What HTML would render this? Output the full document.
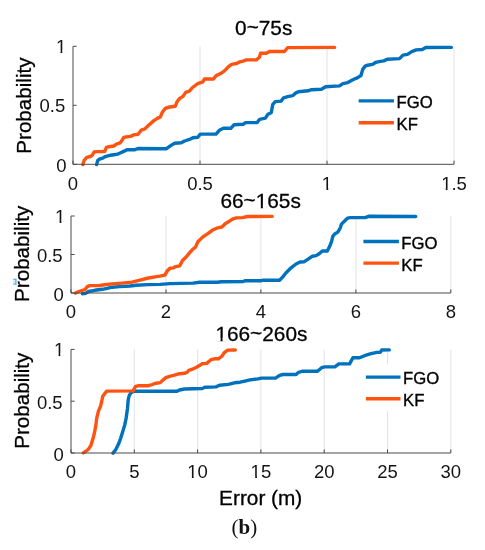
<!DOCTYPE html>
<html><head><meta charset="utf-8"><title>CDF</title>
<style>
html,body{margin:0;padding:0;background:#fff;}
body{width:485px;height:550px;overflow:hidden;}
svg{display:block;filter:blur(0.25px);}
.tk{font-family:"Liberation Sans",Arial,sans-serif;font-size:18.5px;fill:#141414;}
.tt{font-family:"Liberation Sans",Arial,sans-serif;font-size:20.8px;fill:#000;stroke:#000;stroke-width:0.3px;}
.lg{font-family:"Liberation Sans",Arial,sans-serif;font-size:16.7px;fill:#000;stroke:#000;stroke-width:0.35px;}
.cap{font-family:"Liberation Serif","Times New Roman",serif;font-size:21px;fill:#111;}
</style></head>
<body>
<svg width="485" height="550" viewBox="0 0 485 550">
<rect width="485" height="550" fill="#fff"/>
<line x1="200.0" y1="46.3" x2="200.0" y2="164.3" stroke="#e3e3e3" stroke-width="1"/>
<line x1="327.0" y1="46.3" x2="327.0" y2="164.3" stroke="#e3e3e3" stroke-width="1"/>
<line x1="454.0" y1="46.3" x2="454.0" y2="164.3" stroke="#e3e3e3" stroke-width="1"/>
<polyline points="96.6,164.6 97.8,160.3 99.7,159.0 102.7,158.2 104.6,156.9 107.7,155.9 110.2,155.3 113.9,154.7 117.6,154.1 120.7,152.8 123.2,151.6 125.6,150.4 127.5,149.7 134.9,149.7 138.0,148.5 166.5,148.7 171.4,145.1 174.7,143.2 181.3,142.7 184.6,141.0 189.6,139.4 192.9,137.7 197.8,137.2 200.3,134.1 216.0,134.1 219.3,130.3 223.4,128.3 230.8,128.3 234.1,124.7 243.1,124.2 245.6,122.6 257.2,122.6 259.6,119.3 265.4,118.1 267.9,114.3 271.2,112.7 272.8,104.4 275.3,101.6 281.1,101.1 283.6,97.8 287.7,96.7 292.6,95.7 295.9,92.9 298.4,91.7 308.2,90.8 311.5,89.7 321.4,89.2 325.6,86.7 339.6,85.9 342.9,83.7 347.8,82.6 352.8,79.8 357.7,77.6 361.0,75.5 362.7,69.4 365.2,66.1 367.6,65.2 372.6,64.4 375.9,62.3 380.3,61.4 383.8,60.9 387.3,59.2 399.5,58.6 403.0,55.1 407.4,54.4 411.8,51.6 416.2,49.9 422.3,49.5 425.8,47.5 451.3,47.4" fill="none" stroke="#0072BD" stroke-width="3.4" stroke-linejoin="round" stroke-linecap="round"/>
<polyline points="82.9,164.6 84.2,160.3 86.7,157.4 90.4,156.5 92.2,155.3 94.1,152.0 96.6,151.6 104.6,151.6 106.5,147.3 108.9,146.7 113.9,146.0 116.4,144.2 120.1,142.9 121.9,140.5 123.8,137.4 127.5,136.8 131.2,136.1 133.7,134.9 138.0,134.3 141.2,130.2 144.9,128.9 148.6,125.2 153.6,120.9 157.3,118.4 160.4,116.9 162.2,112.5 165.3,108.3 169.6,107.0 175.2,106.3 177.1,101.7 179.5,98.6 183.2,96.1 185.7,92.4 189.4,91.2 192.5,87.5 197.8,83.6 202.8,81.9 204.4,79.0 213.5,79.0 216.0,75.7 220.9,73.4 224.2,71.2 228.3,66.8 231.6,64.4 236.5,63.5 239.8,61.9 243.1,61.1 246.4,59.9 256.3,59.9 259.6,56.9 260.5,53.3 266.2,53.3 269.5,51.5 284.4,51.5 287.7,47.6 334.6,47.4" fill="none" stroke="#FF5311" stroke-width="3.4" stroke-linejoin="round" stroke-linecap="round"/>
<path d="M73.0,46.3V164.3H454.0" fill="none" stroke="#4a4a4a" stroke-width="1"/>
<path d="M73.0,164.3h3.6M73.0,105.3h3.6M73.0,46.3h3.6M73.0,164.3v-3.6M200.0,164.3v-3.6M327.0,164.3v-3.6M454.0,164.3v-3.6" fill="none" stroke="#4a4a4a" stroke-width="1"/>
<text x="66.2" y="52.9" text-anchor="end" class="tk">1</text>
<text x="65.3" y="112.1" text-anchor="end" class="tk">0.5</text>
<text x="66.6" y="171.8" text-anchor="end" class="tk">0</text>
<text x="73.0" y="190.4" text-anchor="middle" class="tk">0</text>
<text x="200.0" y="190.4" text-anchor="middle" class="tk">0.5</text>
<text x="327.0" y="190.4" text-anchor="middle" class="tk">1</text>
<text x="454.0" y="190.4" text-anchor="middle" class="tk">1.5</text>
<text x="263.7" y="34.8" text-anchor="middle" class="tt">0<tspan dy="-0.8">~</tspan><tspan dy="0.8">75s</tspan></text>
<text transform="translate(31.0,105.6) rotate(-90)" text-anchor="middle" class="tt" style="font-size:20.6px">Probability</text>
<rect x="353.7" y="88.3" width="86.8" height="46.6" fill="#fff"/>
<line x1="358.7" y1="100.9" x2="393.9" y2="100.9" stroke="#0072BD" stroke-width="3.4"/>
<line x1="358.7" y1="122.7" x2="393.9" y2="122.7" stroke="#FF5311" stroke-width="3.4"/>
<text x="396.5" y="107.6" class="lg">FGO</text>
<text x="396.5" y="129.9" class="lg">KF</text>
<line x1="166.0" y1="216.0" x2="166.0" y2="293.0" stroke="#e3e3e3" stroke-width="1"/>
<line x1="260.9" y1="216.0" x2="260.9" y2="293.0" stroke="#e3e3e3" stroke-width="1"/>
<line x1="355.9" y1="216.0" x2="355.9" y2="293.0" stroke="#e3e3e3" stroke-width="1"/>
<line x1="450.8" y1="216.0" x2="450.8" y2="293.0" stroke="#e3e3e3" stroke-width="1"/>
<polyline points="82.4,293.8 85.5,293.4 88.6,291.5 94.7,290.3 102.2,289.3 107.1,288.4 112.1,287.2 119.5,286.6 130.0,286.0 136.0,285.2 148.4,284.6 160.0,284.4 169.9,283.6 193.0,283.1 199.6,282.3 217.7,282.3 221.0,281.8 243.2,281.5 244.9,280.7 261.4,280.7 263.0,280.2 279.5,280.2 282.8,276.9 286.1,272.8 291.1,267.8 296.0,264.0 300.2,262.0 304.3,261.7 308.5,258.9 312.4,256.2 316.1,255.6 319.2,253.7 322.3,251.0 327.3,251.0 329.7,246.3 331.6,241.4 332.8,236.4 334.7,234.0 337.8,232.1 340.3,227.8 341.5,224.1 344.6,221.0 347.7,218.1 350.2,217.6 365.0,217.6 368.7,216.3 415.7,216.5" fill="none" stroke="#0072BD" stroke-width="3.4" stroke-linejoin="round" stroke-linecap="round"/>
<polyline points="75.6,293.1 78.7,291.5 82.4,290.3 84.8,289.7 87.3,286.6 89.8,285.6 98.5,285.6 104.6,284.7 112.1,283.9 122.0,283.1 131.9,282.1 140.1,280.1 148.4,278.0 156.6,276.6 160.0,276.1 164.9,275.2 167.4,270.7 169.9,268.2 173.2,267.9 175.7,266.6 179.8,265.8 182.3,260.8 186.4,256.7 189.7,252.6 192.2,249.8 195.5,247.1 197.9,241.8 202.9,236.9 207.8,233.6 212.8,230.0 217.7,227.8 221.9,227.0 225.2,223.7 229.3,221.2 232.5,219.1 236.2,217.9 242.4,217.6 247.3,216.5 272.2,216.4" fill="none" stroke="#FF5311" stroke-width="3.4" stroke-linejoin="round" stroke-linecap="round"/>
<path d="M71.0,216.0V293.0H450.8" fill="none" stroke="#4a4a4a" stroke-width="1"/>
<path d="M71.0,293.0h3.6M71.0,254.5h3.6M71.0,216.0h3.6M71.0,293.0v-3.6M166.0,293.0v-3.6M260.9,293.0v-3.6M355.9,293.0v-3.6M450.8,293.0v-3.6" fill="none" stroke="#4a4a4a" stroke-width="1"/>
<text x="65.3" y="223.4" text-anchor="end" class="tk">1</text>
<text x="62.6" y="262.2" text-anchor="end" class="tk">0.5</text>
<text x="63.7" y="301.2" text-anchor="end" class="tk">0</text>
<text x="71.0" y="318.2" text-anchor="middle" class="tk">0</text>
<text x="166.0" y="318.2" text-anchor="middle" class="tk">2</text>
<text x="260.9" y="318.2" text-anchor="middle" class="tk">4</text>
<text x="355.9" y="318.2" text-anchor="middle" class="tk">6</text>
<text x="450.8" y="318.2" text-anchor="middle" class="tk">8</text>
<text x="260.6" y="207.8" text-anchor="middle" class="tt">66<tspan dy="-0.8">~</tspan><tspan dy="0.8">165s</tspan></text>
<text transform="translate(28.7,253.8) rotate(-90)" text-anchor="middle" class="tt" style="font-size:20.6px">Probability</text>
<rect x="358.4" y="228.9" width="86.9" height="46.4" fill="#fff"/>
<line x1="363.4" y1="241.5" x2="398.9" y2="241.5" stroke="#0072BD" stroke-width="3.4"/>
<line x1="363.4" y1="263.1" x2="398.9" y2="263.1" stroke="#FF5311" stroke-width="3.4"/>
<text x="401.3" y="248.7" class="lg">FGO</text>
<text x="401.3" y="271.0" class="lg">KF</text>
<line x1="134.3" y1="349.4" x2="134.3" y2="453.0" stroke="#e3e3e3" stroke-width="1"/>
<line x1="197.6" y1="349.4" x2="197.6" y2="453.0" stroke="#e3e3e3" stroke-width="1"/>
<line x1="260.9" y1="349.4" x2="260.9" y2="453.0" stroke="#e3e3e3" stroke-width="1"/>
<line x1="324.2" y1="349.4" x2="324.2" y2="453.0" stroke="#e3e3e3" stroke-width="1"/>
<line x1="387.5" y1="349.4" x2="387.5" y2="453.0" stroke="#e3e3e3" stroke-width="1"/>
<line x1="450.8" y1="349.4" x2="450.8" y2="453.0" stroke="#e3e3e3" stroke-width="1"/>
<polyline points="113.0,453.1 115.8,449.6 118.5,444.1 120.6,438.6 122.7,431.7 124.8,424.7 126.2,417.8 127.5,408.2 128.2,399.9 129.2,395.7 131.0,392.7 133.7,391.3 177.0,391.3 179.5,390.0 184.4,389.0 202.3,388.5 204.8,387.3 215.9,386.9 219.6,385.3 228.3,384.4 234.5,382.8 240.0,382.2 244.9,381.1 249.9,379.9 258.1,378.9 261.4,378.1 275.5,378.1 279.6,375.3 282.9,374.5 296.1,374.5 298.6,372.3 302.7,371.2 317.5,371.2 321.6,367.7 324.9,366.9 334.8,366.9 338.9,363.9 349.6,363.9 352.9,357.8 359.5,357.8 364.5,355.7 371.1,353.7 376.9,352.4 380.2,352.4 381.8,350.0 389.3,349.9" fill="none" stroke="#0072BD" stroke-width="3.4" stroke-linejoin="round" stroke-linecap="round"/>
<polyline points="83.3,452.9 88.1,449.6 90.9,445.5 93.0,438.6 94.4,433.0 95.7,426.1 96.8,417.8 98.5,410.9 100.6,406.1 102.0,399.9 102.7,396.4 104.7,393.6 106.8,391.1 133.1,390.9 135.6,386.3 138.7,385.7 148.6,385.7 152.3,384.5 156.0,383.2 160.3,382.6 162.8,380.1 165.9,377.7 169.6,376.4 174.5,375.2 179.5,373.7 184.4,373.3 187.5,372.1 188.8,370.3 192.4,369.2 197.4,366.7 202.3,363.8 206.7,363.4 211.0,359.7 214.7,358.8 218.4,358.8 222.1,356.0 224.0,352.9 227.7,350.1 235.3,350.0" fill="none" stroke="#FF5311" stroke-width="3.4" stroke-linejoin="round" stroke-linecap="round"/>
<path d="M71.0,349.4V453.0H450.8" fill="none" stroke="#4a4a4a" stroke-width="1"/>
<path d="M71.0,453.0h3.6M71.0,401.2h3.6M71.0,349.4h3.6M71.0,453.0v-3.6M134.3,453.0v-3.6M197.6,453.0v-3.6M260.9,453.0v-3.6M324.2,453.0v-3.6M387.5,453.0v-3.6M450.8,453.0v-3.6" fill="none" stroke="#4a4a4a" stroke-width="1"/>
<text x="64.2" y="356.0" text-anchor="end" class="tk">1</text>
<text x="62.6" y="408.8" text-anchor="end" class="tk">0.5</text>
<text x="63.7" y="460.9" text-anchor="end" class="tk">0</text>
<text x="71.0" y="478.2" text-anchor="middle" class="tk">0</text>
<text x="134.3" y="478.2" text-anchor="middle" class="tk">5</text>
<text x="197.6" y="478.2" text-anchor="middle" class="tk">10</text>
<text x="260.9" y="478.2" text-anchor="middle" class="tk">15</text>
<text x="324.2" y="478.2" text-anchor="middle" class="tk">20</text>
<text x="387.5" y="478.2" text-anchor="middle" class="tk">25</text>
<text x="450.8" y="478.2" text-anchor="middle" class="tk">30</text>
<text x="261.4" y="340.5" text-anchor="middle" class="tt">166<tspan dy="-0.8">~</tspan><tspan dy="0.8">260s</tspan></text>
<text transform="translate(28.8,400.7) rotate(-90)" text-anchor="middle" class="tt" style="font-size:20.6px">Probability</text>
<rect x="360.9" y="364.5" width="86.2" height="46.5" fill="#fff"/>
<line x1="365.9" y1="377.1" x2="400.5" y2="377.1" stroke="#0072BD" stroke-width="3.4"/>
<line x1="365.9" y1="398.8" x2="400.5" y2="398.8" stroke="#FF5311" stroke-width="3.4"/>
<text x="403.1" y="383.7" class="lg">FGO</text>
<text x="403.1" y="405.8" class="lg">KF</text>
<rect x="56.81" y="50.60" width="3.66" height="3.40" fill="#fff"/><rect x="62.29" y="50.60" width="3.56" height="3.40" fill="#fff"/><rect x="322.76" y="188.10" width="3.66" height="3.40" fill="#fff"/><rect x="328.23" y="188.10" width="3.56" height="3.40" fill="#fff"/><rect x="442.04" y="188.10" width="3.66" height="3.40" fill="#fff"/><rect x="447.52" y="188.10" width="3.56" height="3.40" fill="#fff"/><rect x="55.91" y="221.10" width="3.66" height="3.40" fill="#fff"/><rect x="61.39" y="221.10" width="3.56" height="3.40" fill="#fff"/><rect x="256.71" y="205.50" width="4.11" height="3.40" fill="#fff"/><rect x="262.86" y="205.50" width="4.00" height="3.40" fill="#fff"/><rect x="54.86" y="353.70" width="3.66" height="3.40" fill="#fff"/><rect x="60.34" y="353.70" width="3.56" height="3.40" fill="#fff"/><rect x="188.21" y="475.90" width="3.66" height="3.40" fill="#fff"/><rect x="193.69" y="475.90" width="3.56" height="3.40" fill="#fff"/><rect x="251.51" y="475.90" width="3.66" height="3.40" fill="#fff"/><rect x="256.99" y="475.90" width="3.56" height="3.40" fill="#fff"/><rect x="216.44" y="338.20" width="4.11" height="3.40" fill="#fff"/><rect x="222.59" y="338.20" width="4.00" height="3.40" fill="#fff"/>
<text x="260.7" y="504.8" text-anchor="middle" class="tt">Error (m)</text>
<text x="244.3" y="533.7" text-anchor="middle" class="cap">(<tspan font-weight="bold">b</tspan>)</text>
<rect x="13.3" y="278.7" width="3.2" height="6" fill="#cdeef8"/><path d="M13.4,279.3H15.9V284.2H13.4" stroke="#58b4dc" stroke-width="1.2" fill="none"/>
</svg>
</body></html>
